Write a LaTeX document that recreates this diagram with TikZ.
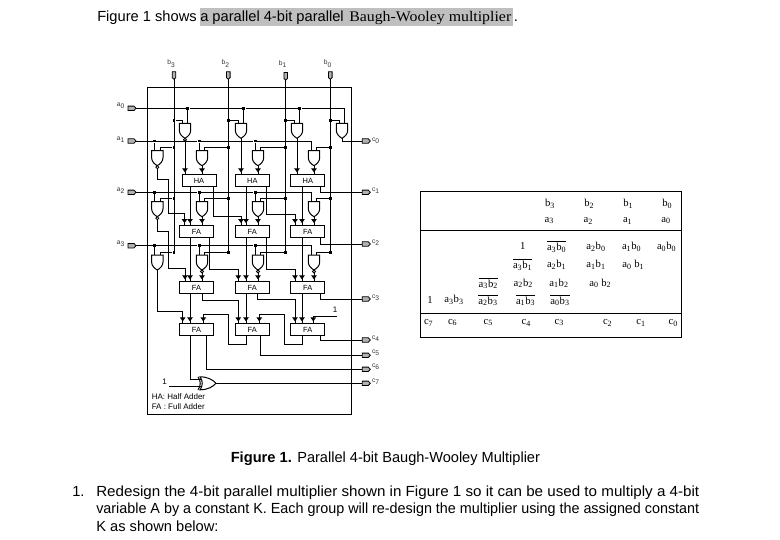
\documentclass[tikz,border=0pt]{standalone}
\usepackage{fontspec}
\setmainfont{Liberation Sans}
\newfontfamily\tms{Liberation Serif}
\usetikzlibrary{arrows.meta,decorations.markings}
\tikzset{
  wire/.style={line width=.75pt,line join=miter},
  into/.style={postaction={decorate},decoration={markings,mark=at position -1.4pt with {\arrow{Triangle[width=4pt,length=3pt]}}}},
  blockbox/.style={draw,line width=.75pt,minimum width=25.5pt,minimum height=9pt,inner sep=0pt,font=\fontsize{5.6}{6}\selectfont},
  gatebody/.style={draw,line width=.75pt,fill=white},
  pinbody/.style={draw,line width=.6pt,fill=black!30},
  jn/.style={fill=black,inner sep=0pt,minimum size=2.2pt},
  pinlabel/.style={font=\fontsize{5}{5}\selectfont,text=black!80,inner sep=0pt},
  tbl/.style={font=\tms\fontsize{8}{8}\selectfont,inner sep=0pt},
  body/.style={font=\fontsize{11}{13}\selectfont,inner sep=0pt,anchor=base west},
  small/.style={font=\fontsize{6}{7}\selectfont,inner sep=0pt,anchor=west},
}
% AND gate: name, centre x, top y, bubble 0/1
\newcommand\andg[4]{%
  \draw[gatebody] (#2-5.7,#3) -- (#2+5.7,#3) -- (#2+5.7,#3+7)
    .. controls (#2+5.7,#3+11) and (#2+2.5,#3+13.5) .. (#2,#3+15)
    .. controls (#2-2.5,#3+13.5) and (#2-5.7,#3+11) .. (#2-5.7,#3+7) -- cycle;
  \coordinate (#1a) at (#2-2.8,#3);
  \coordinate (#1b) at (#2+2.8,#3);
  \ifnum#4=1
    \draw[line width=.6pt,fill=white] (#2,#3+16.5) circle[radius=1.5];
    \coordinate (#1o) at (#2,#3+18);
  \else
    \coordinate (#1o) at (#2,#3+15);
  \fi}
% adder: name, centre x, top y, label, xa, xb, xc, xs, xk
\newcommand\adder[9]{%
  \node[blockbox,anchor=north] (#1) at (#2,#3) {#4};
  \coordinate (#1a) at (#5,#3);
  \coordinate (#1b) at (#6,#3);
  \coordinate (#1c) at (#7,#3);
  \coordinate (#1s) at (#8,#3+12);
  \coordinate (#1k) at (#9,#3+12);}
\newcommand\pinr[3]{%
  \draw[pinbody] (#2,#3-2.2) -- (#2+6,#3-2.2) -- (#2+8,#3) -- (#2+6,#3+2.2) -- (#2,#3+2.2) -- cycle;
  \coordinate (#1) at (#2+8,#3);
  \coordinate (#1w) at (#2,#3);}
\newcommand\pind[3]{%
  \draw[pinbody] (#2-1.8,#3) -- (#2+1.8,#3) -- (#2+1.8,#3+6) -- (#2,#3+7.5) -- (#2-1.8,#3+6) -- cycle;
  \coordinate (#1) at (#2,#3+7.5);}
\newcommand\ovl[1]{$\overline{\hbox{#1}}$}
\newcommand\ab[2]{a\textsubscript{#1}b\textsubscript{#2}}
\begin{document}
\begin{tikzpicture}[x=.75pt,y=-.75pt]
\useasboundingbox (0,0) rectangle (780,539);
\fill[white] (0,0) rectangle (780,539);

% --- heading
\fill[black!25] (200,7.5) rectangle (512.5,25.5);
\node[body] (head1) at (97,21.5) {Figure 1 shows};
\node[body] (head2) at (200,21.5) {a parallel 4-bit parallel};
\node[body,font=\tms\fontsize{11}{13}\selectfont] (head3) at (349,21.5) {\resizebox{121.5pt}{\height}{Baugh-Wooley multiplier}};
\node[body] (head4) at (513.5,21.5) {.};

% --- main frame
\draw[line width=.75pt] (147.5,87.3) rectangle (351.5,414);

% --- pins
\pind{pb3}{174}{71.7}\pind{pb2}{228.3}{71.7}\pind{pb1}{285.7}{72.5}\pind{pb0}{330.3}{71.7}
\pinr{pa0}{128}{108.3}\pinr{pa1}{128}{141}\pinr{pa2}{128}{192.3}\pinr{pa3}{128}{245.7}
\pinr{pc0}{362.3}{141}\pinr{pc1}{362.3}{192.3}\pinr{pc2}{362.3}{244}\pinr{pc3}{362.3}{299}
\pinr{pc4}{362.3}{340}\pinr{pc5}{362.3}{355.3}\pinr{pc6}{362.3}{369.3}\pinr{pc7}{362.3}{383.3}

% --- gates
\andg{g00}{185}{123.3}{1}\andg{g01}{241}{123.3}{0}\andg{g02}{297}{123.3}{0}\andg{g03}{342}{123.3}{0}
\andg{g10}{157.3}{150.7}{1}\andg{g11}{202}{150.7}{0}\andg{g12}{258}{150.7}{0}\andg{g13}{314}{150.7}{0}
\andg{g20}{157.3}{201.7}{1}\andg{g21}{202}{201.7}{0}\andg{g22}{258}{201.7}{0}\andg{g23}{314}{201.7}{0}
\andg{g30}{157.3}{255}{0}\andg{g31}{202}{255}{1}\andg{g32}{258}{255}{1}\andg{g33}{314}{255}{1}

% --- adders
\adder{ha1}{199}{174.3}{HA}{185}{190}{202}{190}{213.3}
\adder{ha2}{252.3}{174.3}{HA}{241}{246}{258}{246}{266.3}
\adder{ha3}{307.8}{174.3}{HA}{297}{302}{314}{302}{320}
\adder{fa11}{196.5}{225}{FA}{184.5}{190}{202}{190}{209.3}
\adder{fa12}{252.3}{225}{FA}{241}{246}{258}{246}{266.3}
\adder{fa13}{307.8}{225}{FA}{295}{302}{314}{302}{320}
\adder{fa21}{196.5}{281.3}{FA}{185}{190}{202}{190}{202.3}
\adder{fa22}{252.3}{281.3}{FA}{238.3}{246}{258}{246}{257.3}
\adder{fa23}{307.8}{281.3}{FA}{295}{302}{314}{302}{320}
\adder{fa31}{196.5}{323.3}{FA}{182.7}{190}{203.3}{190}{206.3}
\adder{fa32}{252.3}{323.3}{FA}{238.3}{246}{259.3}{246}{260.3}
\adder{fa33}{307.8}{323.3}{FA}{295}{302}{313.3}{302}{320}

% --- junctions
\foreach \n/\x/\y in {
  d0a/187.8/108.3,d0b/243.8/108.3,d0c/299.8/108.3,
  e03/174/120.3,e02/228.3/120.3,e01/285.7/120.3,e00/330.3/120.3,
  d1a/154.5/141,d1b/199.2/141,d1c/255.2/141,
  e13/174/147.3,e12/228.3/147.3,e11/285.7/147.3,e10/330.3/147.3,
  d2a/154.5/192.3,d2b/199.2/192.3,d2c/255.2/192.3,
  e23/174/198.3,e22/228.3/198.3,e21/285.7/198.3,e20/330.3/198.3,
  d3a/154.5/245.7,d3b/199.2/245.7,d3c/255.2/245.7,
  e33/174/252.3,e32/228.3/252.3,e31/285.7/252.3,e30/330.3/252.3}
  {\node[jn] (\n) at (\x,\y) {};}

% --- input buses
\draw[wire] (pb3) -- (e33);
\draw[wire] (pb2) -- (e32);
\draw[wire] (pb1) -- (e31);
\draw[wire] (pb0) -- (e30);
\draw[wire] (pa0) -- (d0a) -- (d0b) -- (d0c) -| (g03b);
\draw[wire] (pa1) -- (d1a) -- (d1b) -- (d1c) -| (g13a);
\draw[wire] (pa2) -- (d2a) -- (d2b) -- (d2c) -| (g23a);
\draw[wire] (pa3) -- (d3a) -- (d3b) -- (d3c) -| (g33a);

% --- gate inputs
\draw[wire] (d0a) -- (g00b); \draw[wire] (d0b) -- (g01b); \draw[wire] (d0c) -- (g02b);
\draw[wire] (e03) -| (g00a); \draw[wire] (e02) -| (g01a); \draw[wire] (e01) -| (g02a); \draw[wire] (e00) -| (g03a);
\foreach \r in {1,2,3}{
  \draw[wire] (d\r a) -- (g\r0a); \draw[wire] (d\r b) -- (g\r1a); \draw[wire] (d\r c) -- (g\r2a);
  \draw[wire] (e\r3) -| (g\r0b); \draw[wire] (e\r2) -| (g\r1b); \draw[wire] (e\r1) -| (g\r2b); \draw[wire] (e\r0) -| (g\r3b);
}

% --- half-adder row
\draw[wire,into] (g00o) -- (ha1a);
\draw[wire,into] (g01o) -- (ha2a);
\draw[wire,into] (g02o) -- (ha3a);
\draw[wire,into] (g11o) -- (ha1c);
\draw[wire,into] (g12o) -- (ha2c);
\draw[wire,into] (g13o) -- (ha3c);
\draw[wire] (g03o) |- (pc0w);

% --- first full-adder row
\coordinate (v1) at (168.3,179.3);
\coordinate (v2) at (168.3,213.3);
\draw[wire,into] (g10o) |- (v1) -- (v2) -| (fa11a);
\draw[wire,into] (ha1s) -- (fa11b);
\draw[wire,into] (g21o) -- (fa11c);
\coordinate (h1) at (213.3,216);
\coordinate (h2) at (266.3,214);
\draw[wire,into] (ha1k) -- (h1) -| (fa12a);
\draw[wire,into] (ha2s) -- (fa12b);
\draw[wire,into] (g22o) -- (fa12c);
\draw[wire,into] (ha2k) -- (h2) -| (fa13a);
\draw[wire,into] (ha3s) -- (fa13b);
\draw[wire,into] (g23o) -- (fa13c);
\draw[wire] (ha3k) |- (pc1w);

% --- second full-adder row
\coordinate (v3) at (168.3,231.7);
\coordinate (v4) at (168.3,268.7);
\coordinate (h3) at (209.3,269.3);
\coordinate (h4) at (266.3,269.3);
\draw[wire,into] (g20o) |- (v3) -- (v4) -| (fa21a);
\draw[wire,into] (fa11s) -- (fa21b);
\draw[wire,into] (g31o) -- (fa21c);
\draw[wire,into] (fa11k) -- (h3) -| (fa22a);
\draw[wire,into] (fa12s) -- (fa22b);
\draw[wire,into] (g32o) -- (fa22c);
\draw[wire,into] (fa12k) -- (h4) -| (fa23a);
\draw[wire,into] (fa13s) -- (fa23b);
\draw[wire,into] (g33o) -- (fa23c);
\draw[wire] (fa13k) |- (pc2w);

% --- third full-adder row
\coordinate (h5) at (157.3,311.3);
\coordinate (h6) at (202.3,300.3);
\coordinate (h7) at (257.3,299);
\coordinate (one1) at (336.7,316.7);
\draw[wire,into] (g30o) -- (h5) -| (fa31a);
\draw[wire,into] (fa21s) -- (fa31b);
\draw[wire,into] (fa21k) -- (h6) -| (fa32a);
\draw[wire,into] (fa22s) -- (fa32b);
\draw[wire,into] (fa22k) -- (h7) -| (fa33a);
\draw[wire,into] (fa23s) -- (fa33b);
\draw[wire,into] (one1) -| (fa33c);
\draw[wire] (fa23k) |- (pc3w);
\node[font=\fontsize{6}{6}\selectfont,inner sep=0pt] (onea) at (335,310) {1};

% --- carry loops
\coordinate (l1) at (228.7,344.3);
\coordinate (l2) at (228.7,314.3);
\coordinate (l3) at (284.7,344.3);
\coordinate (l4) at (284.7,314.3);
\draw[wire,into] (fa32s) |- (l1) -- (l2) -| (fa31c);
\draw[wire,into] (fa33s) |- (l3) -- (l4) -| (fa32c);
\draw[wire] (fa33k) |- (pc4w);
\draw[wire] (fa32k) |- (pc5w);
\draw[wire] (fa31k) |- (pc6w);

% --- final gate
\draw[gatebody] (200,376.8) .. controls (208,376.8) and (213,380) .. (216,383.3)
   .. controls (213,386.6) and (208,389.8) .. (200,389.8)
   .. controls (203,386) and (203,380.6) .. (200,376.8) -- cycle;
\draw[line width=.75pt] (198,376.8) .. controls (201,380.6) and (201,386) .. (198,389.8);
\coordinate (xa) at (201.5,379.5);
\coordinate (xb) at (201.5,386.3);
\coordinate (xo) at (216,383.3);
\coordinate (one2) at (169,386.3);
\draw[wire] (fa31s) |- (xa);
\draw[wire] (one2) -- (xb);
\draw[wire] (xo) -- (pc7w);
\node[font=\fontsize{6}{6}\selectfont,inner sep=0pt] (oneb) at (164.5,381.5) {1};

% --- pin labels
\node[pinlabel] (lb3) at (171.5,63.5) {b\textsubscript{3}};
\node[pinlabel] (lb2) at (225.7,63.5) {b\textsubscript{2}};
\node[pinlabel] (lb1) at (283,64) {b\textsubscript{1}};
\node[pinlabel] (lb0) at (328,63.5) {b\textsubscript{0}};
\node[pinlabel] (la0) at (121,105.5) {a\textsubscript{0}};
\node[pinlabel] (la1) at (121,139.5) {a\textsubscript{1}};
\node[pinlabel] (la2) at (121,191) {a\textsubscript{2}};
\node[pinlabel] (la3) at (121,244) {a\textsubscript{3}};
\node[pinlabel] (lc0) at (376,140.5) {c\textsubscript{0}};
\node[pinlabel] (lc1) at (376,191) {c\textsubscript{1}};
\node[pinlabel] (lc2) at (376,243) {c\textsubscript{2}};
\node[pinlabel] (lc3) at (376,298) {c\textsubscript{3}};
\node[pinlabel] (lc4) at (376,338.5) {c\textsubscript{4}};
\node[pinlabel] (lc5) at (376,353) {c\textsubscript{5}};
\node[pinlabel] (lc6) at (376,367) {c\textsubscript{6}};
\node[pinlabel] (lc7) at (376,382) {c\textsubscript{7}};
\node[small] (key1) at (151.5,397) {HA: Half Adder};
\node[small] (key2) at (151.5,407) {FA : Full Adder};

% --- table
\draw[line width=.75pt] (420,191.7) rectangle (681.7,337.3);
\draw[line width=.75pt] (420,230.3) -- (681.7,230.3);
\draw[line width=.75pt] (420,313.3) -- (681.7,313.3);
\foreach \n/\x/\y/\t in {
  tb3/550/204/b\textsubscript{3}, tb2/589.3/204/b\textsubscript{2}, tb1/628.3/204/b\textsubscript{1}, tb0/667.3/204/b\textsubscript{0},
  ta3/549.3/220.7/a\textsubscript{3}, ta2/588.3/220.7/a\textsubscript{2}, ta1/627.7/220.7/a\textsubscript{1}, ta0/666/220.7/a\textsubscript{0},
  r1a/522.7/245.7/1, r1b/556.7/246.5/\ovl{\ab30}, r1c/596/246.7/\ab20, r1d/631.7/246.7/\ab10, r1e/666.7/246.7/\ab00,
  r2a/522.7/264.5/\ovl{\ab31}, r2b/556.7/265/\ab21, r2c/596/265/\ab11, r2d/633.3/265/a\textsubscript{0} b\textsubscript{1},
  r3a/488.3/283/\ovl{\ab32}, r3b/523.3/283.3/\ab22, r3c/559/283.3/\ab12, r3d/600.3/283.3/a\textsubscript{0} b\textsubscript{2},
  r4a/430/299.5/1, r4b/454/300/\ab33, r4c/488/300/\ovl{\ab23}, r4d/525.7/300/\ovl{\ab13}, r4e/560/300/\ovl{\ab03},
  c7/428.7/322.7/c\textsubscript{7}, c6/452.7/322.7/c\textsubscript{6}, c5/488.3/322.7/c\textsubscript{5}, c4/526.3/322.7/c\textsubscript{4},
  c3/559.3/322.7/c\textsubscript{3}, c2/607.7/322.7/c\textsubscript{2}, c1/641/322.7/c\textsubscript{1}, c0/673.3/322.7/c\textsubscript{0}}
  {\node[tbl] (\n) at (\x,\y) {\t};}

% --- caption and text
\node[body] (cap) at (230.5,462) {\textbf{Figure 1.} \resizebox{182pt}{\height}{Parallel 4-bit Baugh-Wooley Multiplier}};
\node[body] (num) at (72,496) {1.};
\node[body] (l1t) at (96,496) {\resizebox{452.25pt}{\height}{Redesign the 4-bit parallel multiplier shown in Figure 1 so it can be used to multiply a 4-bit}};
\node[body] (l2t) at (96,513) {\resizebox{452.25pt}{\height}{variable A by a constant K. Each group will re-design the multiplier using the assigned constant}};
\node[body] (l3t) at (96,531) {K as shown below:};
\end{tikzpicture}
\end{document}
